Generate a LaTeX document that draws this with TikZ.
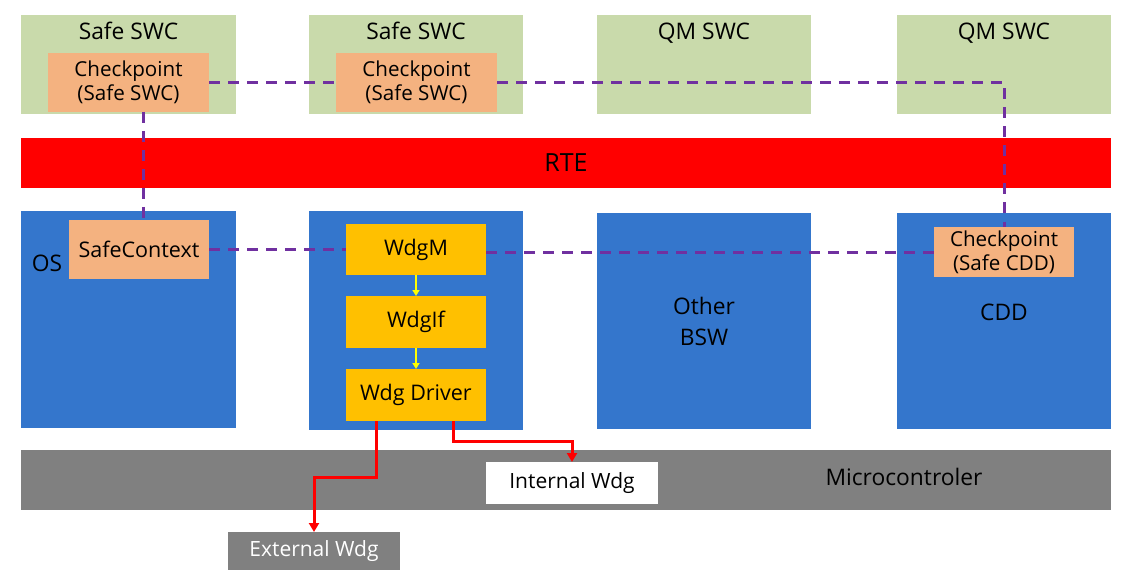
\documentclass[tikz,border=0pt]{standalone}
\usepackage{fontspec}
\setmainfont{Open Sans}
\usetikzlibrary{arrows.meta}
\definecolor{swcgreen}{RGB}{201,218,171}
\definecolor{cporange}{RGB}{244,178,128}
\definecolor{bswblue}{RGB}{52,118,204}
\definecolor{wdgyellow}{RGB}{255,192,0}
\definecolor{mcugrey}{RGB}{128,128,128}
\definecolor{rtered}{RGB}{255,0,0}
\definecolor{dpurple}{RGB}{112,48,160}
\definecolor{arryellow}{RGB}{255,255,0}
\begin{document}
\begin{tikzpicture}[x=1pt,y=-1pt,
  blk/.style={anchor=north west, inner sep=0pt, outer sep=0pt},
  swc/.style={blk, fill=swcgreen, minimum height=99pt},
  bsw/.style={blk, fill=bswblue},
  cp/.style={blk, fill=cporange, align=center, font=\fontsize{20.6}{24}\selectfont},
  wdg/.style={blk, fill=wdgyellow, minimum width=140pt, font=\fontsize{21.5}{24}\selectfont},
  lbl/.style={inner sep=0pt, font=\fontsize{22.8}{26}\selectfont},
  ttl/.style={lbl, anchor=base},
  pdash/.style={draw=dpurple, line width=3pt, dash pattern=on 11pt off 8pt},
  redarr/.style={draw=rtered, line width=3pt, -{Triangle[length=9pt,width=10pt]}},
  yelarr/.style={draw=arryellow, line width=2pt, -{Triangle[length=6pt,width=7pt]}}
]
\useasboundingbox (0,0) rectangle (1128,575);
\fill[white] (0,0) rectangle (1128,575);

% SWC layer
\node[swc, minimum width=215pt] (swc1) at (21,15) {};
\node[swc, minimum width=214pt] (swc2) at (309,15) {};
\node[swc, minimum width=214pt] (swc3) at (597,15) {};
\node[swc, minimum width=214pt] (swc4) at (897,15) {};
\node[ttl] (swc1t) at (128.5,40) {Safe SWC};
\node[ttl] (swc2t) at (416,40) {Safe SWC};
\node[ttl] (swc3t) at (704,40) {QM SWC};
\node[ttl] (swc4t) at (1004,40) {QM SWC};
\node[cp, minimum width=161pt, minimum height=59pt] (cp1) at (48,53) {Checkpoint\\(Safe SWC)};
\node[cp, minimum width=161pt, minimum height=59pt] (cp2) at (336,53) {Checkpoint\\(Safe SWC)};

% RTE
\node[blk, fill=rtered, minimum width=1090pt, minimum height=50pt] (rte) at (21,138) {};
\node[lbl, font=\fontsize{25}{28}\selectfont] (rtet) at (566,163) {RTE};

% BSW layer
\node[bsw, minimum width=215pt, minimum height=217pt] (os) at (21,211) {};
\node[bsw, minimum width=214pt, minimum height=219pt] (bswm) at (309,211) {};
\node[bsw, minimum width=214pt, minimum height=216pt] (other) at (597,213) {};
\node[bsw, minimum width=214pt, minimum height=216pt] (cdd) at (897,213) {};
\node[lbl] (ost) at (47,263) {OS};
\node[lbl, align=center, font=\fontsize{22.8}{31}\selectfont] (othert) at (704,321) {Other\\BSW};
\node[lbl] (cddt) at (1004,312) {CDD};

\node[cp, minimum width=140pt, minimum height=59pt, font=\fontsize{21.5}{24}\selectfont] (safectx) at (69,220) {SafeContext};
\node[wdg, minimum height=51pt] (wdgm) at (346,224) {WdgM};
\node[wdg, minimum height=52pt] (wdgif) at (346,296) {WdgIf};
\node[wdg, minimum height=52pt] (drv) at (346,369) {Wdg Driver};
\node[cp, minimum width=140pt, minimum height=50pt] (cpcdd) at (934,227) {Checkpoint\\(Safe CDD)};

% Microcontroller
\node[blk, fill=mcugrey, minimum width=1090pt, minimum height=60pt] (mcu) at (21,450) {};
\node[lbl] (mcut) at (904,477) {Microcontroler};
\node[blk, fill=white, minimum width=172pt, minimum height=42pt, font=\fontsize{21}{24}\selectfont] (intw) at (486,462) {Internal Wdg};
\node[blk, fill=mcugrey, text=white, minimum width=172pt, minimum height=38pt, font=\fontsize{21}{24}\selectfont] (extw) at (228,532) {External Wdg};

% dashed connectors
\coordinate (vx) at (143,0);
\draw[pdash] (cp1.east) -- (cp2.west);
\draw[pdash] (cp2.east) -| (cpcdd.north);
\draw[pdash] (cp1.south -| vx) -- (safectx.north -| vx);
\draw[pdash] (safectx.east) -- (wdgm.west |- safectx.east);
\draw[pdash] (wdgm.east |- cpcdd.west) -- (cpcdd.west);

% yellow arrows
\draw[yelarr] (wdgm.south) -- (wdgif.north);
\draw[yelarr] (wdgif.south) -- (drv.north);

% red arrows
\coordinate (r1) at (376,0);
\coordinate (r2) at (314,0);
\coordinate (r3) at (453,0);
\coordinate (r4) at (572,0);
\draw[redarr] (drv.south -| r1) -- ++(0,56) -| (extw.north -| r2);
\draw[redarr] (drv.south -| r3) -- ++(0,20) -| (intw.north -| r4);
\end{tikzpicture}
\end{document}
